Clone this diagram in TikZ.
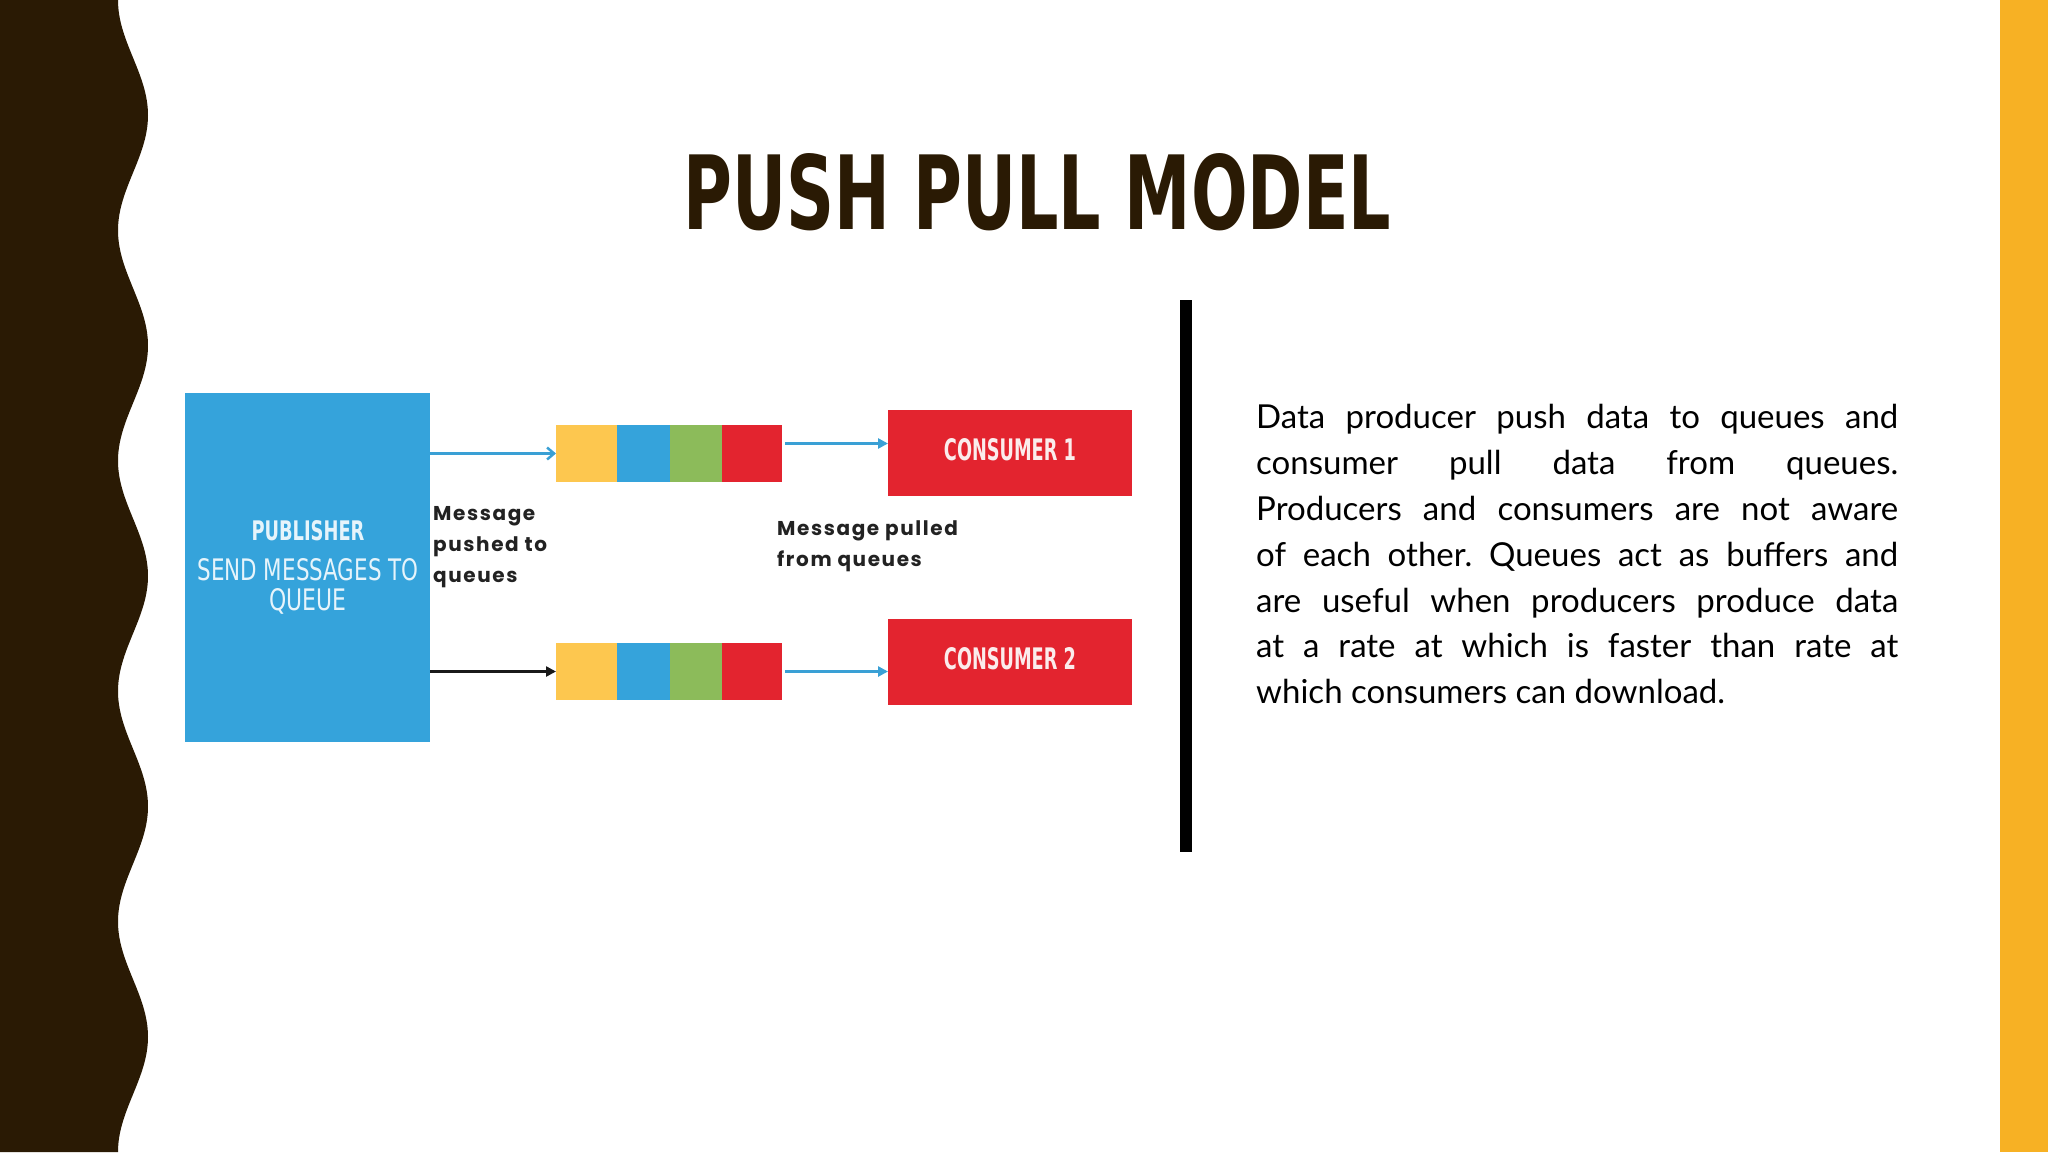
\documentclass[tikz,border=0pt]{standalone}
\usepackage{fontspec}
\usepackage{graphicx}
\usetikzlibrary{arrows.meta,calc}
\setmainfont{Lato}
\newfontfamily\condfont{DejaVu Sans Condensed}
\newfontfamily\lblfont[LetterSpace=8]{Poppins}
\newfontfamily\parfont{Lato}
\frenchspacing
\definecolor{darkbrown}{HTML}{2A1A04}
\definecolor{barorange}{HTML}{F7B124}
\definecolor{qyellow}{HTML}{FDC74F}
\definecolor{qblue}{HTML}{35A3DB}
\definecolor{qgreen}{HTML}{8CBB5A}
\definecolor{qred}{HTML}{E3242F}
\definecolor{arrowblue}{HTML}{3AA0D5}
\definecolor{pubtext}{HTML}{E6F4FB}
\definecolor{context}{HTML}{FBECEC}
\definecolor{lbltext}{HTML}{222222}
\tikzset{
  box/.style={draw=none, inner sep=0pt, outer sep=0pt, anchor=north west},
  qseg/.style={box, minimum height=57pt},
  consbox/.style={box, fill=qred, minimum width=244pt, minimum height=86pt},
  boxtext/.style={anchor=base, inner sep=0pt},
  lbl/.style={anchor=base west, inner sep=0pt, text=lbltext, font=\lblfont\bfseries\fontsize{20}{24}\selectfont},
  para/.style={anchor=base west, inner sep=0pt, text=black, font=\parfont\fontsize{33}{40}\selectfont},
  bluearrow/.style={draw=arrowblue, line width=2.5pt},
  blackarrow/.style={draw=black!90, line width=3pt, -{Triangle[length=10pt,width=10pt]}}
}
\begin{document}
\begin{tikzpicture}[x=1pt,y=-1pt]
\useasboundingbox (0,0) rectangle (2048,1152);
\fill[white] (0,0) rectangle (2048,1152);
% wavy left band
\fill[darkbrown] (0,0) -- plot[domain=0:1152, samples=300, variable=\t] ({133-15*cos(\t*1.5625)},\t) -- (0,1152) -- cycle;
% right orange bar
\fill[barorange] (2000,0) rectangle (2048,1152);

% title
\node[boxtext, text=darkbrown] (title) at (1037.5,229) {\resizebox{707pt}{76pt}{\condfont\bfseries PUSH PULL MODEL}};

% divider
\coordinate (dtop) at (1186,300);
\coordinate (dbot) at (1186,852);
\draw[line width=12pt, black] (dtop) -- (dbot);

% publisher
\node[box, fill=qblue, minimum width=245pt, minimum height=349pt] (pub) at (185,393) {};
\node[boxtext, text=pubtext] (pubt1) at (308,540) {\resizebox{113pt}{20pt}{\condfont\bfseries PUBLISHER}};
\node[boxtext, text=pubtext] (pubt2) at (308,580) {\resizebox{221pt}{22pt}{\condfont SEND MESSAGES TO}};
\node[boxtext, text=pubtext] (pubt3) at (308,610) {\resizebox{77pt}{22pt}{\condfont QUEUE}};

% queue 1
\node[qseg, fill=qyellow, minimum width=61pt] (q1a) at (556,425) {};
\node[qseg, fill=qblue,   minimum width=53pt] (q1b) at (617,425) {};
\node[qseg, fill=qgreen,  minimum width=52pt] (q1c) at (670,425) {};
\node[qseg, fill=qred,    minimum width=60pt] (q1d) at (722,425) {};
% queue 2
\node[qseg, fill=qyellow, minimum width=61pt] (q2a) at (556,643) {};
\node[qseg, fill=qblue,   minimum width=53pt] (q2b) at (617,643) {};
\node[qseg, fill=qgreen,  minimum width=52pt] (q2c) at (670,643) {};
\node[qseg, fill=qred,    minimum width=60pt] (q2d) at (722,643) {};

% consumers
\node[consbox] (c1) at (888,410) {};
\node[boxtext, text=context] (c1t) at (1010,460) {\resizebox{132pt}{22pt}{\condfont\bfseries CONSUMER 1}};
\node[consbox] (c2) at (888,619) {};
\node[boxtext, text=context] (c2t) at (1010,669) {\resizebox{132pt}{22pt}{\condfont\bfseries CONSUMER 2}};

% connectors
\draw[bluearrow, -{Straight Barb[length=7pt,width=12pt]}] (pub.east |- q1a.west) -- (q1a.west);
\draw[blackarrow] (pub.east |- q2a.west) -- (q2a.west);
\coordinate (a1) at ($(q1d.east)+(3,-10)$);
\draw[bluearrow, -{Triangle[length=10pt,width=10pt]}] (a1) -- (a1 -| c1.west);
\coordinate (a2) at ($(q2d.east)+(3,0)$);
\draw[bluearrow, -{Triangle[length=10pt,width=10pt]}] (a2) -- (a2 -| c2.west);

% labels
\node[lbl] (m1) at (433,520) {Message};
\node[lbl] (m2) at (433,551) {pushed to};
\node[lbl] (m3) at (433,582) {queues};
\node[lbl] (n1) at (777,535) {Message pulled};
\node[lbl] (n2) at (777,566) {from queues};

% paragraph
\node[para] (p1) at (1256,428) {\makebox[642pt][s]{Data producer push data to queues and}};
\node[para] (p2) at (1256,474) {\makebox[642pt][s]{consumer pull data from queues.}};
\node[para] (p3) at (1256,520) {\makebox[642pt][s]{Producers and consumers are not aware}};
\node[para] (p4) at (1256,566) {\makebox[642pt][s]{of each other. Queues act as buffers and}};
\node[para] (p5) at (1256,612) {\makebox[642pt][s]{are useful when producers produce data}};
\node[para] (p6) at (1256,657) {\makebox[642pt][s]{at a rate at which is faster than rate at}};
\node[para] (p7) at (1256,703) {which consumers can download.};
\end{tikzpicture}
\end{document}
